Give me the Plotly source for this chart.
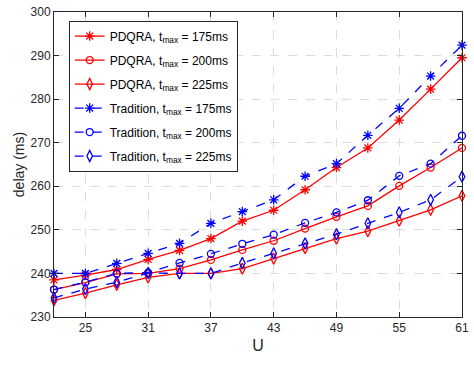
import plotly.graph_objects as go

U = [22, 25, 28, 31, 34, 37, 40, 43, 46, 49, 52, 55, 58, 61]

pdqra_175 = [238.5, 239.6, 240.9, 243.2, 245.3, 248.0, 252.0, 254.5, 259.2, 264.3, 268.8, 275.2, 282.3, 289.5]
pdqra_200 = [236.3, 237.9, 239.9, 240.0, 241.1, 243.1, 245.4, 247.5, 250.3, 253.0, 255.5, 260.1, 264.3, 268.8]
pdqra_225 = [233.8, 235.5, 237.4, 239.1, 240.0, 240.0, 241.1, 243.4, 245.8, 248.0, 249.7, 252.1, 254.6, 257.8]
trad_175 = [240.0, 240.0, 242.3, 244.6, 246.9, 251.5, 254.2, 256.9, 262.3, 265.2, 271.7, 277.9, 285.3, 292.4]
trad_200 = [236.3, 238.0, 240.0, 240.2, 242.4, 244.5, 246.8, 248.9, 251.6, 254.0, 256.8, 262.4, 265.2, 271.6]
trad_225 = [234.4, 236.4, 238.0, 240.1, 240.0, 240.0, 242.4, 244.6, 246.9, 249.0, 251.5, 254.0, 256.9, 262.2]

x_ticks = [25, 31, 37, 43, 49, 55, 61]
y_ticks = [230, 240, 250, 260, 270, 280, 290, 300]

names = [
    "PDQRA, t<sub>max</sub> = 175ms",
    "PDQRA, t<sub>max</sub> = 200ms",
    "PDQRA, t<sub>max</sub> = 225ms",
    "Tradition, t<sub>max</sub> = 175ms",
    "Tradition, t<sub>max</sub> = 200ms",
    "Tradition, t<sub>max</sub> = 225ms",
]
series = [pdqra_175, pdqra_200, pdqra_225, trad_175, trad_200, trad_225]
symbols = ["asterisk-open", "circle-open", "diamond-tall-open"] * 2
sizes = [8, 7, 8] * 2
colors = ["#ff0000"] * 3 + ["#0000ff"] * 3
dashes = ["solid"] * 3 + ["dash"] * 3

fig = go.Figure()
for i, (nm, ys, sym, sz, col, dsh) in enumerate(zip(names, series, symbols, sizes, colors, dashes)):
    fig.add_trace(go.Scatter(
        x=U, y=ys, name=nm, mode="lines+markers", cliponaxis=False,
        legendgroup=f"g{i}",
        line=dict(color=col, width=1.3, dash=dsh),
        marker=dict(symbol=sym, size=sz, color=col, line=dict(color=col, width=1.3)),
    ))

axis_common = dict(
    showline=True, linecolor="#262626", linewidth=1, mirror="ticks",
    ticks="inside", ticklen=5, tickcolor="#262626",
    showgrid=True, gridcolor="#dcdcdc", griddash="dash", gridwidth=1,
    zeroline=False, tickfont=dict(size=12, color="#262626"),
    ticklabeloverflow="allow",
)

fig.update_layout(
    width=474, height=376,
    margin=dict(l=54, r=5, t=5, b=59),
    paper_bgcolor="white", plot_bgcolor="white",
    font=dict(family="Liberation Sans, Arial, sans-serif", color="#262626"),
    xaxis=dict(range=[22, 61], tickvals=x_ticks,
               title=dict(text="U", font=dict(size=16), standoff=5), **axis_common),
    yaxis=dict(range=[230, 300], tickvals=y_ticks,
               title=dict(text="delay (ms)", font=dict(size=14), standoff=2), **axis_common),
    legend=dict(x=0.036, y=0.972, xanchor="left", yanchor="top",
                bgcolor="white", bordercolor="#262626", borderwidth=1,
                itemwidth=30,
                font=dict(size=12, color="#000000"), tracegroupgap=5),
    showlegend=True,
)

fig.write_html("out.html", config={"displayModeBar": False},
               post_script="document.body.style.margin='0';")
